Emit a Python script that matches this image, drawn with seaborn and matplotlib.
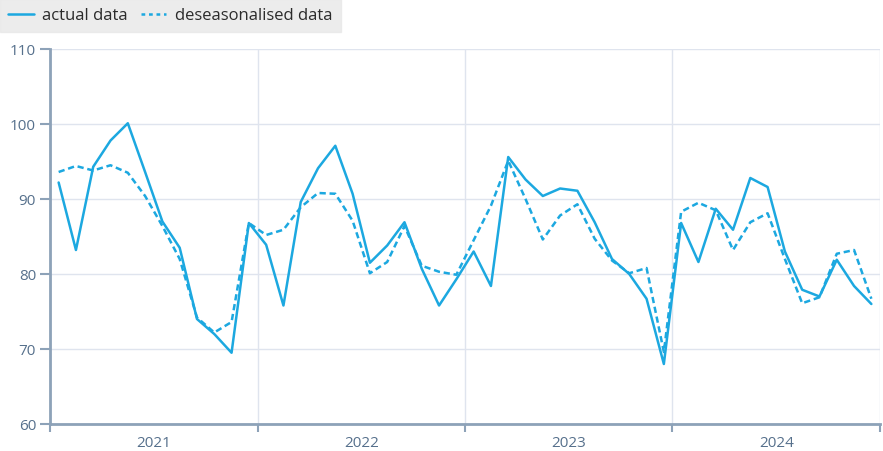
import numpy as np
import pandas as pd
import matplotlib
matplotlib.use("Agg")
import matplotlib.pyplot as plt
import seaborn as sns
from matplotlib.lines import Line2D

years = ["2021", "2022", "2023", "2024"]
actual = [92.2, 83.2, 94.3, 97.8, 100.1, 93.6, 87.0, 83.5, 74.0, 72.0, 69.5, 86.8,
          83.9, 75.8, 89.6, 94.1, 97.1, 90.7, 81.5, 83.8, 86.9, 80.7, 75.8, 79.3,
          83.0, 78.4, 95.6, 92.6, 90.4, 91.4, 91.1, 86.9, 82.0, 80.0, 76.7, 68.0,
          86.8, 81.6, 88.7, 85.9, 92.8, 91.6, 83.0, 77.9, 77.0, 81.9, 78.4, 76.0]
deseasonalised = [93.6, 94.4, 93.8, 94.5, 93.5, 90.4, 86.4, 82.0, 74.2, 72.2, 73.6, 86.8,
                  85.2, 85.9, 88.9, 90.8, 90.7, 87.1, 80.1, 81.6, 86.4, 81.1, 80.3, 79.9,
                  84.5, 89.1, 95.1, 90.0, 84.6, 87.8, 89.3, 84.7, 81.8, 80.1, 80.8, 69.6,
                  88.3, 89.5, 88.5, 83.2, 86.9, 88.1, 82.0, 76.1, 76.9, 82.7, 83.2, 76.7]

x = np.arange(len(actual)) + 0.5
df = pd.DataFrame({"x": np.concatenate([x, x]),
                   "value": actual + deseasonalised,
                   "series": ["actual data"] * len(actual) + ["deseasonalised data"] * len(deseasonalised)})

sns.set_theme(style="white")
plt.rcParams["font.family"] = ["Open Sans", "DejaVu Sans"]

color = "#1ca8e0"
fig = plt.figure(figsize=(8.83, 4.52), dpi=100)
ax = fig.add_axes([50 / 883, 1 - 425 / 452, 830 / 883, 375 / 452])

sns.lineplot(data=df, x="x", y="value", style="series", ax=ax, color=color,
             dashes={"actual data": "", "deseasonalised data": (2.5, 1.5)},
             linewidth=1.8, legend=False)

ax.set_xlim(0, 48)
ax.set_ylim(60, 110)
ax.set_yticks(range(60, 111, 10))
ax.set_xticks([0, 12, 24, 36, 48])
ax.set_xticklabels([])
ax.set_xticks([6, 18, 30, 42], minor=True)
ax.set_xticklabels(years, minor=True)
ax.set_xlabel("")
ax.set_ylabel("")

grid_c = "#dfe4ee"
ax.grid(True, which="major", color=grid_c, linewidth=1)
ax.set_axisbelow(True)
spine_c = "#8da2b8"
for s in ["top", "right"]:
    ax.spines[s].set_visible(False)
ax.spines["left"].set_color(spine_c)
ax.spines["left"].set_linewidth(2)
ax.spines["bottom"].set_color(spine_c)
ax.spines["bottom"].set_linewidth(2)
ax.tick_params(axis="y", which="major", length=7, width=1.5, color=spine_c,
               labelcolor="#56708c", labelsize=11, pad=3, left=True)
ax.tick_params(axis="x", which="major", length=6, width=1.5, color=spine_c, bottom=True)
ax.tick_params(axis="x", which="minor", length=0, labelcolor="#56708c", labelsize=11, pad=8, bottom=True)

handles = [Line2D([], [], color=color, linewidth=1.8),
           Line2D([], [], color=color, linewidth=1.8, linestyle=(0, (1.5, 1.5)))]
leg = fig.legend(handles, ["actual data", "deseasonalised data"], loc="upper left",
                 bbox_to_anchor=(0, 1), ncol=2, frameon=True, fontsize=12,
                 handlelength=1.55, handletextpad=0.5, columnspacing=0.75,
                 borderpad=0.5, fancybox=False, borderaxespad=0)
leg.get_frame().set_facecolor("#e8e8e8")
leg.get_frame().set_edgecolor("#e8e8e8")
for t in leg.get_texts():
    t.set_color("#2b2b2b")

fig.savefig("out.png", dpi=100)
